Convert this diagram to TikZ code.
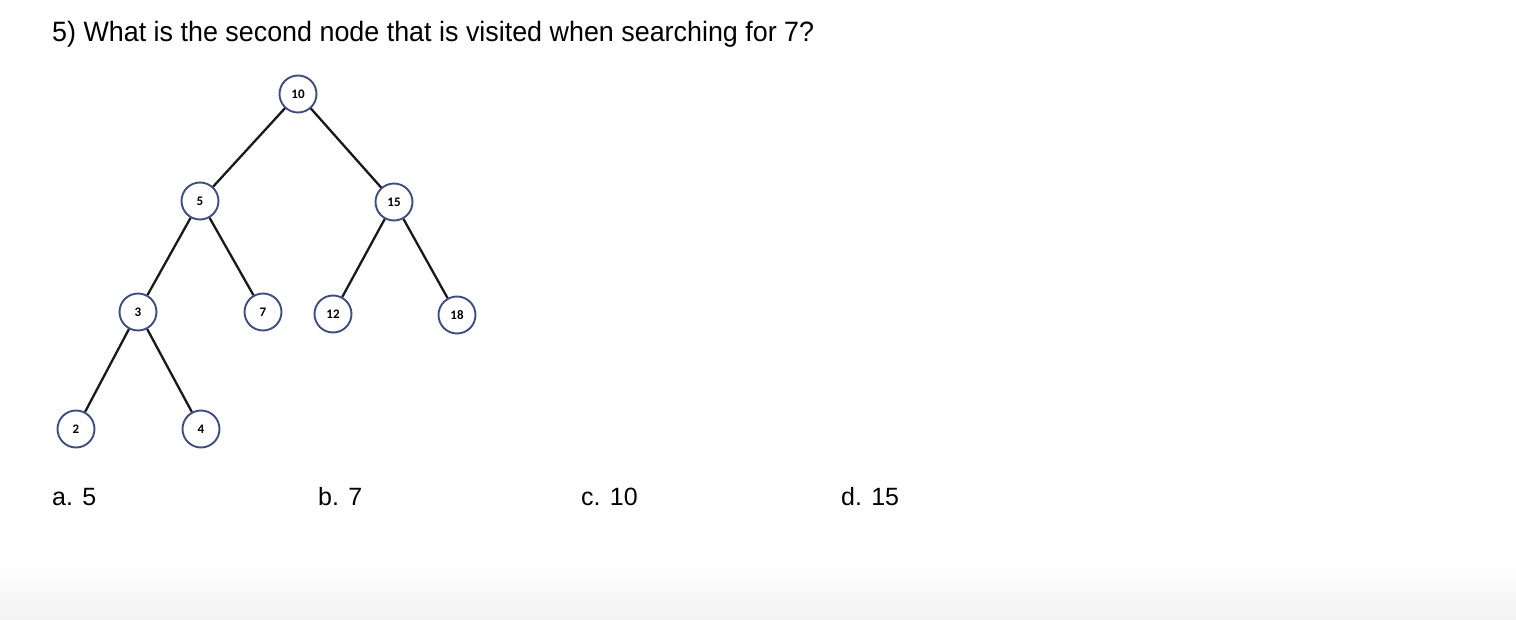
\documentclass[tikz,border=0pt]{standalone}
\usepackage{fontspec}
\setmainfont{Liberation Sans}
\newfontfamily\nodefont{Carlito}
\begin{document}
\begin{tikzpicture}[x=1pt,y=-1pt,
  tnode/.style={circle,draw=tcol,line width=1.9pt,fill=white,minimum size=37pt,inner sep=0pt,font=\nodefont\bfseries\fontsize{13}{13}\selectfont},
  tedge/.style={draw=black!90,line width=2.3pt},
  qtext/.style={anchor=base west,inner sep=0pt,xscale=0.96,transform shape,font=\fontsize{28}{28}\selectfont},
  atext/.style={anchor=base west,inner sep=0pt,font=\fontsize{25}{25}\selectfont}]
\definecolor{tcol}{HTML}{3E4C7E}
\useasboundingbox (0,0) rectangle (1516,620);
\shade[top color=white,bottom color=black!5] (0,560) rectangle (1516,620);
\node[qtext] (q) at (52,42) {5) What is the second node that is visited when searching for 7?};
\node[tnode] (n10) at (298,94) {10};
\node[tnode] (n5) at (200,201) {5};
\node[tnode] (n15) at (394,202) {15};
\node[tnode] (n3) at (138,312) {3};
\node[tnode] (n7) at (263,312) {7};
\node[tnode] (n12) at (333,314) {12};
\node[tnode] (n18) at (457,315) {18};
\node[tnode] (n2) at (76,429) {2};
\node[tnode] (n4) at (201,429) {4};
\draw[tedge] (n10) -- (n5);
\draw[tedge] (n10) -- (n15);
\draw[tedge] (n5) -- (n3);
\draw[tedge] (n5) -- (n7);
\draw[tedge] (n15) -- (n12);
\draw[tedge] (n15) -- (n18);
\draw[tedge] (n3) -- (n2);
\draw[tedge] (n3) -- (n4);
\node[atext] (a) at (52,505) {a. 5};
\node[atext] (b) at (318,505) {b. 7};
\node[atext] (c) at (581,505) {c. 10};
\node[atext] (d) at (841,505) {d. 15};
\end{tikzpicture}
\end{document}
